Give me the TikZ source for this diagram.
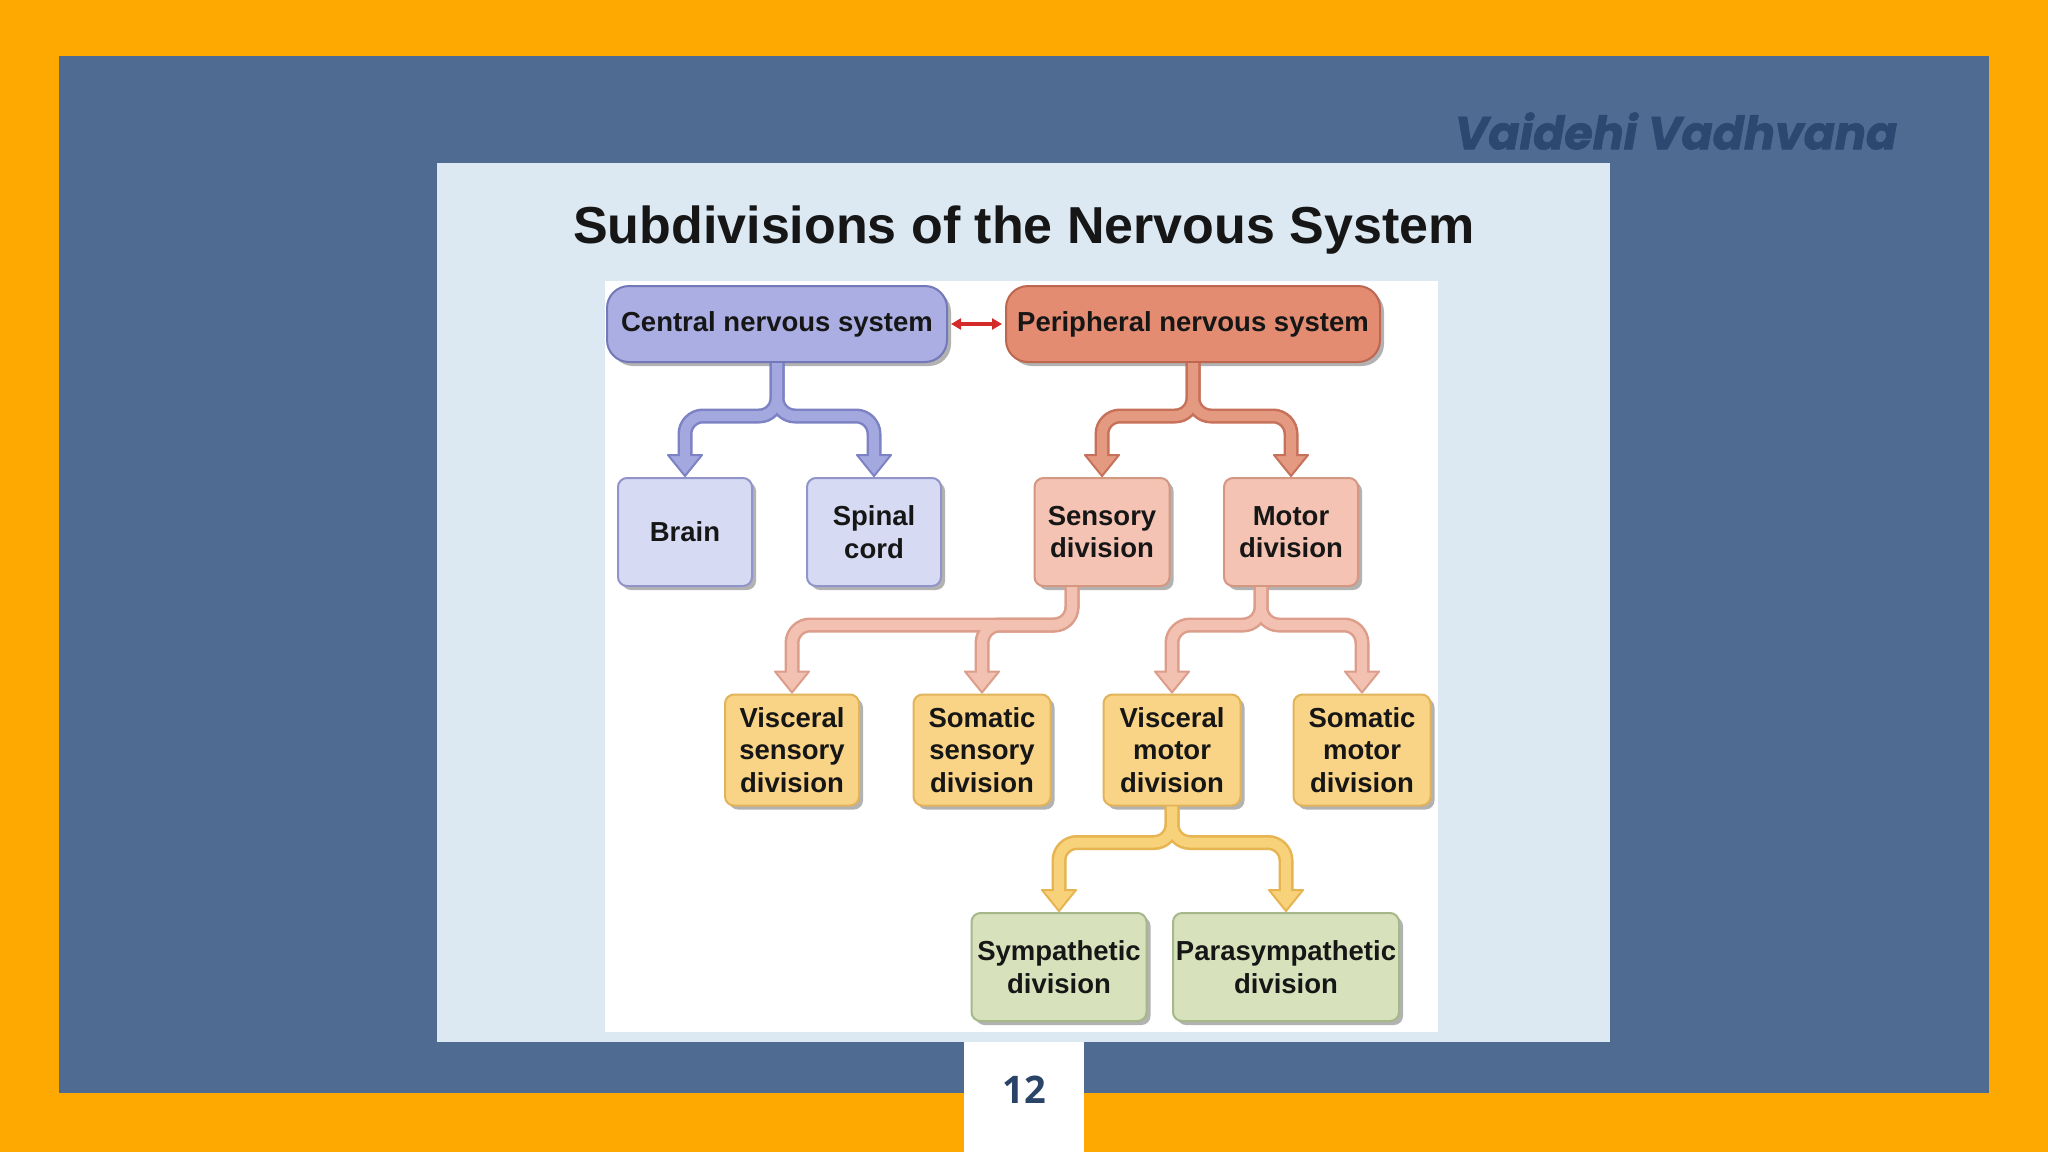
\documentclass[tikz,border=0pt]{standalone}
\usepackage{fontspec}
\setmainfont{Liberation Sans}
\newfontfamily\wmfont{Poppins}[BoldItalicFeatures={FakeBold=1.5}]
\newfontfamily\pgfont{Open Sans}
\usetikzlibrary{arrows.meta,shadows,calc}
\definecolor{orangebg}{HTML}{FDA902}
\definecolor{bluebg}{HTML}{4F6B92}
\definecolor{wmcol}{HTML}{2C4870}
\definecolor{pgcol}{HTML}{2A4468}
\definecolor{panelcol}{HTML}{DCE8F2}
\definecolor{txtcol}{HTML}{161616}
\definecolor{cnsF}{HTML}{AAAEE2}\definecolor{cnsB}{HTML}{7378B8}
\definecolor{pnsF}{HTML}{E38C72}\definecolor{pnsB}{HTML}{BD6650}
\definecolor{lavF}{HTML}{D7DAF3}\definecolor{lavB}{HTML}{9094C8}
\definecolor{pinkF}{HTML}{F4C3B3}\definecolor{pinkB}{HTML}{D49782}
\definecolor{yelF}{HTML}{F9D486}\definecolor{yelB}{HTML}{E2B45A}
\definecolor{grnF}{HTML}{D7E2BC}\definecolor{grnB}{HTML}{A6B88A}
\definecolor{aCnsF}{HTML}{A3A8DF}\definecolor{aCnsB}{HTML}{7D82C4}
\definecolor{aPnsF}{HTML}{E39A80}\definecolor{aPnsB}{HTML}{C7705A}
\definecolor{aPinkF}{HTML}{F2C1B2}\definecolor{aPinkB}{HTML}{DC9D8A}
\definecolor{aYelF}{HTML}{F8D27A}\definecolor{aYelB}{HTML}{E6B450}
\definecolor{redarr}{HTML}{D42A2A}
\tikzset{
  box/.style={rounded corners=9pt, line width=2pt, align=center, inner sep=0pt,
    text=txtcol, font=\fontsize{27.5}{32.6}\selectfont\bfseries,
    drop shadow={shadow xshift=4pt, shadow yshift=-4pt, opacity=0.3, fill=black}},
  topbox/.style={box, rounded corners=22pt, minimum height=76pt},
}
\newcommand\forkdraw[5]{%
  \foreach \t in {#5}{\draw[#1, line width=15pt, rounded corners=18pt] #3 -- ++(0,#4) -| ([yshift=22pt]\t.north);}
  \foreach \t in {#5}{\filldraw[fill=#2, draw=#1, line width=2pt, line join=round] ([shift={(-17pt,22pt)}]\t.north) -- ([shift={(17pt,22pt)}]\t.north) -- ([yshift=1pt]\t.north) -- cycle;}
  \foreach \t in {#5}{\draw[#2, line width=10pt, rounded corners=18pt] #3 -- ++(0,#4) -| ([yshift=19pt]\t.north);}
}
\begin{document}
\begin{tikzpicture}[x=1pt,y=-1pt]
\useasboundingbox (0,0) rectangle (2048,1152);
\fill[orangebg] (0,0) rectangle (2048,1152);
\fill[bluebg] (59,56) rectangle (1989,1093);
\fill[panelcol] (437,163) rectangle (1610,1042);
\fill[white] (605,281) rectangle (1438,1032);
\fill[white] (964,1042) rectangle (1084,1152);
\node[text=pgcol, font=\pgfont\bfseries\fontsize{38}{40}\selectfont] (pg) at (1024,1090) {12};
\node[text=wmcol, font=\wmfont\bfseries\itshape\fontsize{46}{50}\selectfont] (wm) at (1676,131) {Vaidehi Vadhvana};
\node[text=txtcol, font=\bfseries\fontsize{52}{56}\selectfont] (title) at (1024,230) {Subdivisions of the Nervous System};

\node[topbox, fill=cnsF, draw=cnsB, minimum width=340pt] (cns) at (777,324) {Central nervous system};
\node[topbox, fill=pnsF, draw=pnsB, minimum width=374pt] (pns) at (1193,324) {Peripheral nervous system};

\node[box, fill=lavF, draw=lavB, minimum width=134pt, minimum height=108pt] (brain) at (685,532) {Brain};
\node[box, fill=lavF, draw=lavB, minimum width=134pt, minimum height=108pt] (spinal) at (874,532) {Spinal\\cord};
\node[box, fill=pinkF, draw=pinkB, minimum width=135pt, minimum height=108pt] (sensory) at (1102,532) {Sensory\\division};
\node[box, fill=pinkF, draw=pinkB, minimum width=134pt, minimum height=108pt] (motor) at (1291,532) {Motor\\division};

\node[box, fill=yelF, draw=yelB, minimum width=134pt, minimum height=111pt] (vsens) at (792,750) {Visceral\\sensory\\division};
\node[box, fill=yelF, draw=yelB, minimum width=137pt, minimum height=111pt] (ssens) at (982,750) {Somatic\\sensory\\division};
\node[box, fill=yelF, draw=yelB, minimum width=137pt, minimum height=111pt] (vmot) at (1172,750) {Visceral\\motor\\division};
\node[box, fill=yelF, draw=yelB, minimum width=137pt, minimum height=111pt] (smot) at (1362,750) {Somatic\\motor\\division};

\node[box, fill=grnF, draw=grnB, minimum width=175pt, minimum height=108pt] (symp) at (1059,967) {Sympathetic\\division};
\node[box, fill=grnF, draw=grnB, minimum width=226pt, minimum height=108pt] (para) at (1286,967) {Parasympathetic\\division};

\draw[redarr, line width=3.5pt, {Triangle[length=10pt,width=11pt]}-{Triangle[length=10pt,width=11pt]}, shorten <=3pt, shorten >=3pt] (cns.east) -- (pns.west);

\forkdraw{aCnsB}{aCnsF}{(cns.south)}{53}{brain,spinal}
\forkdraw{aPnsB}{aPnsF}{(pns.south)}{53}{sensory,motor}
\forkdraw{aPinkB}{aPinkF}{([xshift=-30pt]sensory.south)}{38}{vsens,ssens}
\forkdraw{aPinkB}{aPinkF}{([xshift=-30pt]motor.south)}{38}{vmot,smot}
\forkdraw{aYelB}{aYelF}{(vmot.south)}{36}{symp,para}
\end{tikzpicture}
\end{document}
